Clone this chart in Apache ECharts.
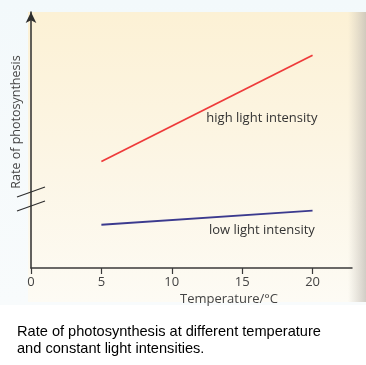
<!DOCTYPE html>
<html>
<head>
<meta charset="utf-8">
<script src="https://cdn.jsdelivr.net/npm/echarts@6/dist/echarts.min.js"></script>
<style>
html,body{margin:0;padding:0;background:#ffffff;}
#c{width:366px;height:365px;}
</style>
</head>
<body>
<div id="c"></div>
<script>
// Data
const temperatures = [5, 20];
const highLightRate = [41.6, 83.1];
const lowLightRate = [16.9, 22.4];
const xTickValues = [0, 5, 10, 15, 20];
const seriesNames = ['high light intensity', 'low light intensity'];
const labelAnchors = [[16.4, 58.6], [16.4, 14.8]];
const xAxisTitle = 'Temperature/°C';
const yAxisTitle = 'Rate of photosynthesis';
const captionLines = ['Rate of photosynthesis at different temperature', 'and constant light intensities.'];

const chart = echarts.init(document.getElementById('c'), null, {renderer: 'canvas'});
const FONT = '"Open Sans", "Noto Sans", sans-serif';

const option = {
  animation: false,
  backgroundColor: '#ffffff',
  grid: {left: 31, right: 14, top: 12, bottom: 97, containLabel: false},
  xAxis: {
    type: 'value', min: 0, max: 22.8, interval: 5,
    splitLine: {show: false},
    axisLine: {lineStyle: {color: '#3a3a3a', width: 1.5}},
    axisTick: {show: true, length: 6, customValues: xTickValues, lineStyle: {color: '#3a3a3a', width: 1.2}},
    axisLabel: {customValues: xTickValues, color: '#444', fontFamily: FONT, fontSize: 13, margin: 8}
  },
  yAxis: {
    type: 'value', min: 0, max: 100,
    splitLine: {show: false},
    axisTick: {show: false},
    axisLabel: {show: false},
    axisLine: {show: true, symbol: ['none', 'arrow'], symbolSize: [8, 11], lineStyle: {color: '#2e2e2e', width: 1.5}}
  },
  series: [
    {name: seriesNames[0], type: 'line', data: temperatures.map((t, i) => [t, highLightRate[i]]),
     showSymbol: false, lineStyle: {color: '#ee3a3a', width: 1.8}, z: 3},
    {name: seriesNames[1], type: 'line', data: temperatures.map((t, i) => [t, lowLightRate[i]]),
     showSymbol: false, lineStyle: {color: '#3b3a8e', width: 1.8}, z: 3}
  ]
};
chart.setOption(option);

const labelGraphics = seriesNames.map((n, i) => {
  const p = chart.convertToPixel({gridIndex: 0}, labelAnchors[i]);
  return {type: 'text', x: p[0], y: p[1], z: 10,
    style: {text: n, fill: '#333', font: '13px ' + FONT, textAlign: 'center', textVerticalAlign: 'middle'}};
});

chart.setOption({
  graphic: [
    {type: 'rect', z: -10, shape: {x: 0, y: 0, width: 366, height: 305},
     style: {fill: new echarts.graphic.LinearGradient(0, 0, 0, 1, [
       {offset: 0, color: '#f3f9fb'}, {offset: 1, color: '#f8fbfc'}])}},
    {type: 'rect', z: -9, shape: {x: 28, y: 12, width: 338, height: 290},
     style: {fill: new echarts.graphic.LinearGradient(0, 0, 0, 1, [
       {offset: 0, color: '#fcf1d5'}, {offset: 0.55, color: '#fcf6e6'}, {offset: 1, color: '#fdfbf4'}])}},
    {type: 'rect', z: -8, shape: {x: 348, y: 12, width: 18, height: 290},
     style: {fill: new echarts.graphic.LinearGradient(0, 0, 1, 0, [
       {offset: 0, color: 'rgba(200,195,185,0)'}, {offset: 1, color: 'rgba(190,185,178,0.7)'}])}},
    {type: 'line', z: 10, shape: {x1: 17, y1: 197, x2: 45, y2: 187}, style: {stroke: '#2e2e2e', lineWidth: 1.2}},
    {type: 'line', z: 10, shape: {x1: 17, y1: 211, x2: 45, y2: 201}, style: {stroke: '#2e2e2e', lineWidth: 1.2}},
    ...labelGraphics,
    {type: 'text', x: 16, y: 122, rotation: Math.PI / 2, z: 10,
     style: {text: yAxisTitle, fill: '#444', font: '12.5px ' + FONT, textAlign: 'center', textVerticalAlign: 'middle'}},
    {type: 'text', x: 229, y: 299, z: 10,
     style: {text: xAxisTitle, fill: '#444', font: '13px ' + FONT, textAlign: 'center', textVerticalAlign: 'middle'}},
    {type: 'text', x: 17, y: 332, z: 10,
     style: {text: captionLines[0], fill: '#000', font: '14.6px "Liberation Sans", Arial, sans-serif', textVerticalAlign: 'middle'}},
    {type: 'text', x: 17, y: 349, z: 10,
     style: {text: captionLines[1], fill: '#000', font: '14.6px "Liberation Sans", Arial, sans-serif', textVerticalAlign: 'middle'}}
  ]
});
</script>
</body>
</html>
